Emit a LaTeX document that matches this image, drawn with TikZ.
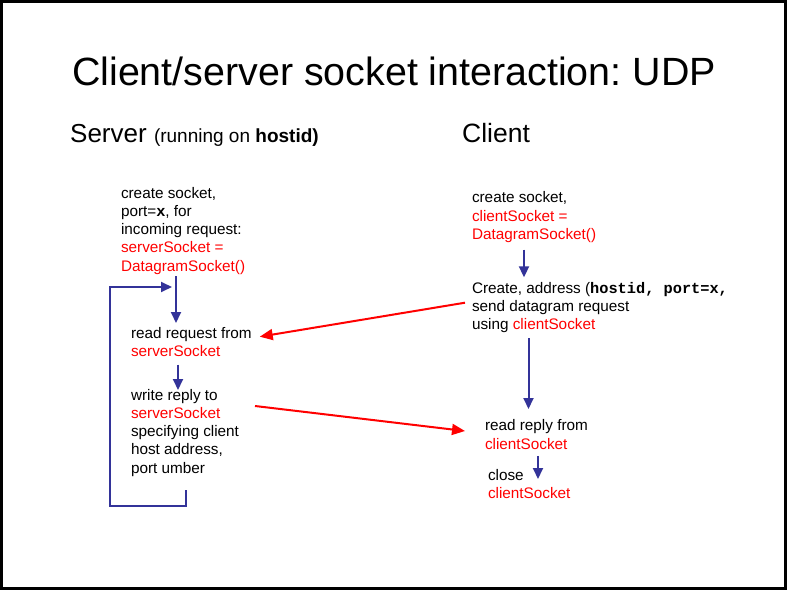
\documentclass[tikz,border=0pt]{standalone}
\usepackage{fontspec}
\setmainfont{Liberation Sans}
\setmonofont{Liberation Mono}
\usetikzlibrary{arrows.meta}
\frenchspacing
\definecolor{arrblue}{RGB}{51,51,153}
\definecolor{txtred}{RGB}{255,0,0}
\newcommand{\rd}[1]{\textcolor{txtred}{#1}}
\newcommand{\mbf}[1]{\texttt{\bfseries #1}}
\tikzset{
  body/.style={anchor=north west, inner sep=0pt, outer sep=0pt, align=left,
    font=\fontsize{15.3}{18.3}\selectfont},
  flow/.style={draw=arrblue, line width=2pt, -{Triangle[length=11pt,width=10pt]}},
  msg/.style={draw=red, line width=2pt, -{Triangle[length=13pt,width=11pt]}},
  heading/.style={anchor=base west, inner sep=0pt}
}
\begin{document}
\begin{tikzpicture}[x=1pt,y=-1pt]
\useasboundingbox (0,0) rectangle (788,591);
\draw[line width=3pt] (1.5,1.5) rectangle (785.5,588.5);

\node[anchor=base, inner sep=0pt, font=\fontsize{39.4}{44}\selectfont] (title) at (394,86)
  {Client/server socket interaction: UDP};
\node[heading] (srv) at (70,143)
  {\fontsize{26}{30}\selectfont Server \fontsize{19}{22}\selectfont(running on \textbf{hostid)}};
\node[heading, font=\fontsize{26.5}{30}\selectfont] (cli) at (462,143) {Client};

% server side
\node[body] (s1) at (121,187)
  {create socket,\\port=\mbf{x}, for\\incoming request:\\\rd{serverSocket =}\\\rd{DatagramSocket()}};
\node[body] (s2) at (131,327)
  {read request from\\\rd{serverSocket}};
\node[body] (s3) at (131,389)
  {write reply to\\\rd{serverSocket}\\specifying client\\host address,\\port umber};

% client side
\node[body] (c1) at (472,191.7)
  {create socket,\\\rd{clientSocket =}\\\rd{DatagramSocket()}};
\node[body] (c2) at (472,282.3)
  {Create, address (\mbf{hostid, port=x,}\\send datagram request\\using \rd{clientSocket}};
\node[body] (c3) at (485,419.7)
  {read reply from\\\rd{clientSocket}};
\node[body] (c4) at (488,469)
  {close\\\rd{clientSocket}};

\coordinate (loopcorner) at (110,506);
\coordinate (loopin) at (172,287);

% blue flow arrows
\draw[flow] ([xshift=55pt,yshift=-2pt]s1.south west) -- ([xshift=45pt,yshift=4pt]s2.north west);
\draw[flow] ([xshift=47pt,yshift=-8pt]s2.south west) -- ([xshift=47pt,yshift=-1pt]s3.north west);
\draw[flow] ([xshift=55pt,yshift=-14pt]s3.south west) |- (loopcorner) |- (loopin);

\draw[flow] ([xshift=52pt,yshift=-7pt]c1.south west) -- ([xshift=52pt,yshift=5pt]c2.north west);
\draw[flow] ([xshift=56.5pt,yshift=-5pt]c2.south west) -- ([xshift=43.5pt,yshift=10.7pt]c3.north west);
\draw[flow] ([xshift=53pt,yshift=-6.7pt]c3.south west) -- ([xshift=50pt,yshift=-10pt]c4.north west);

% red messages
\draw[msg] ([xshift=-7pt,yshift=-20.4pt]c2.north west) -- ([xshift=8pt,yshift=-9.7pt]s2.north east);
\draw[msg] ([xshift=16pt,yshift=-17pt]s3.north east) -- ([xshift=-20pt,yshift=-11.3pt]c3.north west);
\end{tikzpicture}
\end{document}
